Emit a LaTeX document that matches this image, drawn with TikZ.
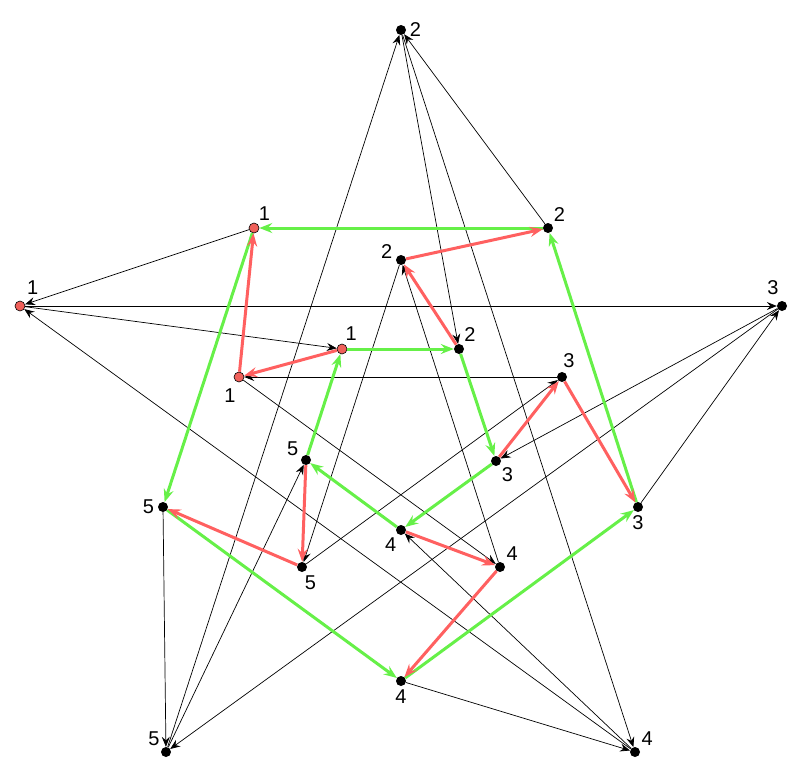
\documentclass[tikz,border=0pt]{standalone}
\usepackage{fontspec}
\setmainfont{Liberation Sans}
\usetikzlibrary{arrows.meta}
\definecolor{edgered}{RGB}{255,96,96}
\definecolor{edgegreen}{RGB}{102,240,72}
\definecolor{dotred}{RGB}{240,96,90}

\begin{document}
\begin{tikzpicture}[x=1pt,y=-1pt,
  dot/.style={circle,fill=black,inner sep=0pt,minimum size=10pt},
  rdot/.style={dot,fill=dotred,draw=black,line width=0.6pt},
  every label/.style={font=\fontsize{20}{22}\selectfont,inner sep=0.5pt},
  label distance=3pt,
  blk/.style={-{Stealth[length=10pt,width=8pt,inset=3.5pt]},line width=0.7pt},
  grn/.style={-{Stealth[length=13pt,width=10pt,inset=4.5pt]},edgegreen,line width=3pt},
  red/.style={-{Stealth[length=13pt,width=10pt,inset=4.5pt]},edgered,line width=3pt}]
\useasboundingbox (0,0) rectangle (802,774);
% outer star
\node[rdot,label={[label distance=7pt]58:1}] (o1) at (20,306) {};
\node[dot,label={0:2}] (o2) at (401,30) {};
\node[dot,label={[label distance=6pt]105:3}] (o3) at (782,306) {};
\node[dot,label={45:4}] (o4) at (635,752) {};
\node[dot,label={135:5}] (o5) at (166,752) {};
% outer pentagon
\node[rdot,label={60:1}] (p1) at (254,228) {};
\node[dot,label={50:2}] (p2) at (548,228) {};
\node[dot,label={-90:3}] (p3) at (638,507) {};
\node[dot,label={-90:4}] (p4) at (401,681) {};
\node[dot,label={180:5}] (p5) at (163,507) {};
% inner pentagon
\node[rdot,label={70:1}] (q1) at (342,349) {};
\node[dot,label={55:2}] (q2) at (459,349) {};
\node[dot,label={-50:3}] (q3) at (496,461) {};
\node[dot,label={-120:4}] (q4) at (401,530) {};
\node[dot,label={150:5}] (q5) at (306,460) {};
% inner star
\node[rdot,label={[label distance=6pt]-105:1}] (r1) at (239,377) {};
\node[dot,label={175:2}] (r2) at (401,260) {};
\node[dot,label={85:3}] (r3) at (562,377) {};
\node[dot,label={45:4}] (r4) at (500,567) {};
\node[dot,label={-75:5}] (r5) at (302,567) {};

\draw[blk] (p1) -- (o1);
\draw[blk] (p2) -- (o2);
\draw[blk] (p3) -- (o3);
\draw[blk] (p4) -- (o4);
\draw[blk] (p5) -- (o5);
\draw[blk] (o1) -- (q1);
\draw[blk] (o2) -- (q2);
\draw[blk] (o3) -- (q3);
\draw[blk] (o4) -- (q4);
\draw[blk] (o5) -- (q5);
\draw[blk] (o1) -- (o3);
\draw[blk] (o2) -- (o4);
\draw[blk] (o3) -- (o5);
\draw[blk] (o4) -- (o1);
\draw[blk] (o5) -- (o2);
\draw[blk] (r1) -- (r4);
\draw[blk] (r2) -- (r5);
\draw[blk] (r3) -- (r1);
\draw[blk] (r4) -- (r2);
\draw[blk] (r5) -- (r3);

\draw[grn] (p2) -- (p1);
\draw[grn] (p1) -- (p5);
\draw[grn] (p5) -- (p4);
\draw[grn] (p4) -- (p3);
\draw[grn] (p3) -- (p2);
\draw[grn] (q1) -- (q2);
\draw[grn] (q2) -- (q3);
\draw[grn] (q3) -- (q4);
\draw[grn] (q4) -- (q5);
\draw[grn] (q5) -- (q1);

\draw[red] (q1) -- (r1);
\draw[red] (q2) -- (r2);
\draw[red] (q3) -- (r3);
\draw[red] (q4) -- (r4);
\draw[red] (q5) -- (r5);
\draw[red] (r1) -- (p1);
\draw[red] (r2) -- (p2);
\draw[red] (r3) -- (p3);
\draw[red] (r4) -- (p4);
\draw[red] (r5) -- (p5);
\end{tikzpicture}
\end{document}
